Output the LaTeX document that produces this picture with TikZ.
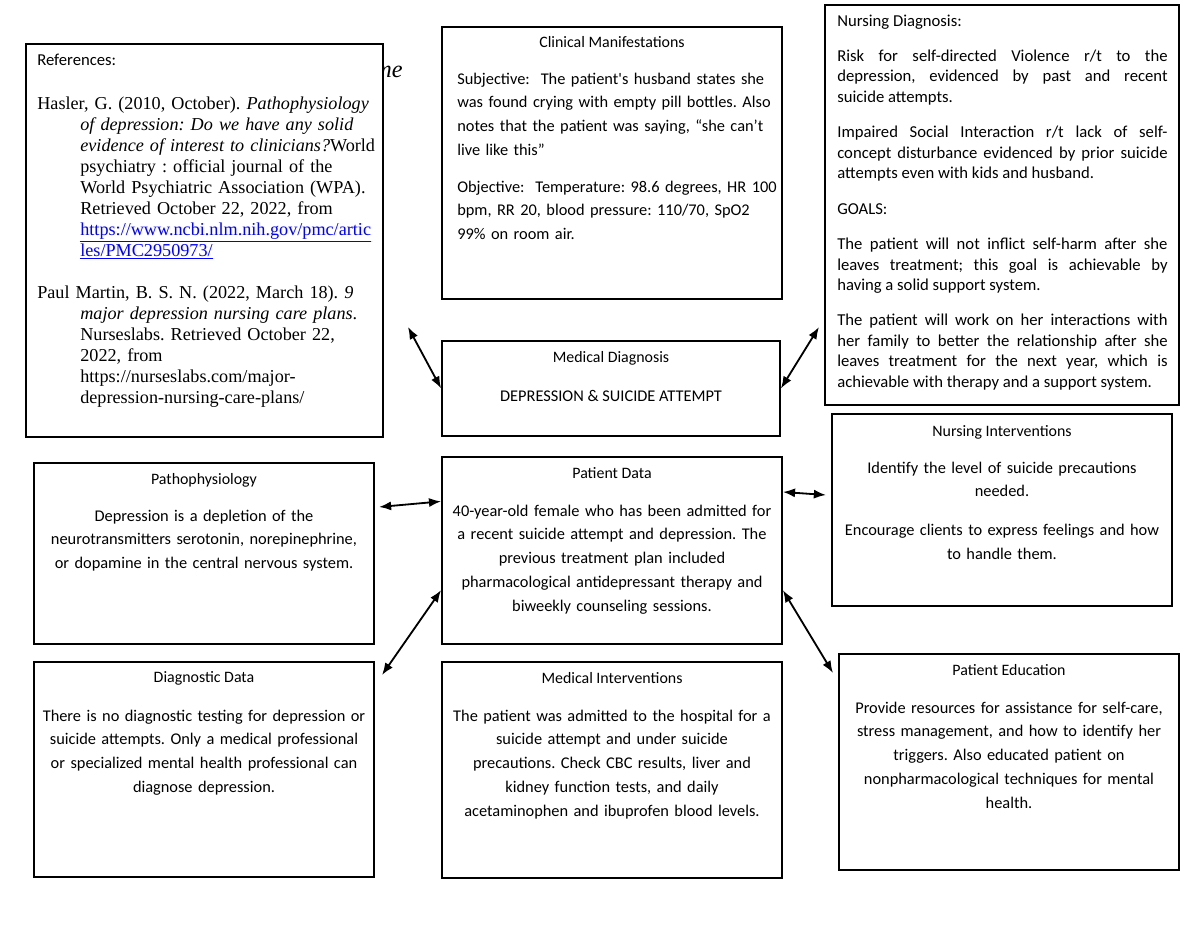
\documentclass[tikz,border=0pt]{standalone}
\usepackage{fontspec}
\setmainfont{Carlito}
\newfontfamily\tnrfont{Liberation Serif}
\usetikzlibrary{fit,calc,arrows.meta}
\tikzset{
  box/.style={draw, line width=1.2pt, fill=white, inner sep=0pt},
  head/.style={anchor=base, inner sep=0pt, font=\fontsize{10.5pt}{13pt}\selectfont},
  body/.style={anchor=base, inner sep=0pt, text width=232pt, align=center, font=\fontsize{10.8pt}{15.7pt}\selectfont\frenchspacing},
  lbody/.style={anchor=base west, inner sep=0pt, text width=232pt, align=left, font=\fontsize{10.8pt}{15.7pt}\selectfont\frenchspacing},
  conn/.style={line width=1.2pt, {Latex[length=8pt,width=6pt]}-{Latex[length=8pt,width=6pt]}},
  reftext/.style={anchor=base west, inner sep=0pt, text width=250pt, align=left, font=\tnrfont\fontsize{12pt}{13.86pt}\selectfont\frenchspacing},
}
\definecolor{linkblue}{RGB}{0,0,255}
\newcommand{\hang}{\hspace*{28.4pt}}
\begin{document}
\begin{tikzpicture}[x=0.66pt,y=-0.66pt]
\useasboundingbox (0,0) rectangle (1200,927);
% partly hidden title behind the references box
\node[anchor=base east, inner sep=0pt, font=\tnrfont\itshape\fontsize{16pt}{16pt}\selectfont] (title) at (403,77) {Name};
% boxes
\node[box, fit={(26,44)(383,437)}] (ref) {};
\node[box, fit={(442,27)(782,299)}] (cm) {};
\node[box, fit={(825,5)(1179,405)}] (nd) {};
\node[box, fit={(442,341)(780,436)}] (md) {};
\node[box, fit={(34,463)(374,644)}] (pp) {};
\node[box, fit={(442,457)(782,644)}] (pd) {};
\node[box, fit={(832,414)(1172,606)}] (ni) {};
\node[box, fit={(34,662)(374,877)}] (dd) {};
\node[box, fit={(442,662)(782,878)}] (mi) {};
\node[box, fit={(839,654)(1179,870)}] (pe) {};
% references
\node[anchor=base west, inner sep=0pt, font=\fontsize{11pt}{13pt}\selectfont] (refh) at (37,65) {References:};
\node[reftext] (reft) at (37,109) {Hasler, G. (2010, October). \textit{Pathophysiology}\\
\hang\textit{of depression: Do we have any solid}\\
\hang\textit{evidence of interest to clinicians?}World\\
\hang psychiatry : official journal of the\\
\hang World Psychiatric Association (WPA).\\
\hang Retrieved October 22, 2022, from\\
\hang\textcolor{linkblue}{\underline{https://www.ncbi.nlm.nih.gov/pmc/artic}}\\
\hang\textcolor{linkblue}{\underline{les/PMC2950973/}}\\[13.86pt]
Paul Martin, B. S. N. (2022, March 18). \textit{9}\\
\hang\textit{major depression nursing care plans}.\\
\hang Nurseslabs. Retrieved October 22,\\
\hang 2022, from\\
\hang https://nurseslabs.com/major-\\
\hang depression-nursing-care-plans/};
% clinical manifestations
\node[head] (cmh) at (612,47) {Clinical Manifestations};
\node[lbody] (cmt) at (457,84) {Subjective:\ \ The patient\textquotesingle s husband states she\\
was found crying with empty pill bottles. Also\\
notes that the patient was saying, “she can’t\\
live like this”\\[8.6pt]
Objective:\ \ Temperature: 98.6 degrees, HR 100\\
bpm, RR 20, blood pressure: 110/70, SpO2\\
99\% on room air.};
% nursing diagnosis
\node[anchor=base west, inner sep=0pt, text width=218pt, align=justify, font=\fontsize{11pt}{13.5pt}\selectfont\frenchspacing] (ndt) at (837,26) {\setlength{\parskip}{9.9pt}\hyphenpenalty=10000\exhyphenpenalty=10000
Nursing Diagnosis:\par
Risk for self-directed Violence r/t to the\linebreak depression, evidenced by past and recent\linebreak suicide attempts.\par
Impaired Social Interaction r/t lack of self-\linebreak concept disturbance evidenced by prior suicide\linebreak attempts even with kids and husband.\par
GOALS:\par
The patient will not inflict self-harm after she\linebreak leaves treatment; this goal is achievable by\linebreak having a solid support system.\par
The patient will work on her interactions with\linebreak her family to better the relationship after she\linebreak leaves treatment for the next year, which is\linebreak achievable with therapy and a support system.};
% medical diagnosis
\node[head] (mdh) at (611,362) {Medical Diagnosis};
\node[head, font=\fontsize{10.8pt}{13pt}\selectfont] (mdt) at (611,401) {DEPRESSION \& SUICIDE ATTEMPT};
% pathophysiology
\node[head] (pph) at (204,484) {Pathophysiology};
\node[body] (ppt) at (204,521) {Depression is a depletion of the\\
neurotransmitters serotonin, norepinephrine,\\
or dopamine in the central nervous system.};
% patient data
\node[head] (pdh) at (612,478) {Patient Data};
\node[body] (pdt) at (612,516) {40-year-old female who has been admitted for\\
a recent suicide attempt and depression. The\\
previous treatment plan included\\
pharmacological antidepressant therapy and\\
biweekly counseling sessions.};
% nursing interventions
\node[head] (nih) at (1002,436) {Nursing Interventions};
\node[body] (nit) at (1002,473) {Identify the level of suicide precautions\\
needed.\\[10pt]
Encourage clients to express feelings and how\\
to handle them.};
% diagnostic data
\node[head] (ddh) at (204,682) {Diagnostic Data};
\node[body] (ddt) at (204,721) {There is no diagnostic testing for depression or\\
suicide attempts. Only a medical professional\\
or specialized mental health professional can\\
diagnose depression.};
% medical interventions
\node[head] (mih) at (612,683) {Medical Interventions};
\node[body] (mit) at (612,721) {The patient was admitted to the hospital for a\\
suicide attempt and under suicide\\
precautions. Check CBC results, liver and\\
kidney function tests, and daily\\
acetaminophen and ibuprofen blood levels.};
% patient education
\node[head] (peh) at (1009,675) {Patient Education};
\node[body] (pet) at (1009,713) {Provide resources for assistance for self-care,\\
stress management, and how to identify her\\
triggers. Also educated patient on\\
nonpharmacological techniques for mental\\
health.};
% connector free ends
\coordinate (c1) at (408,327);
\coordinate (c2) at (819,327);
\coordinate (c3) at (379,507);
\coordinate (c4) at (826,495);
\coordinate (c5) at (382,675);
\coordinate (c6) at (833,673);
% connectors
\draw[conn] (c1) -- (md.west);
\draw[conn] (md.east) -- (c2);
\draw[conn] (c3) -- ($(pd.north west)!0.24!(pd.south west)$);
\draw[conn] ($(pd.north east)!0.19!(pd.south east)$) -- (c4);
\draw[conn] (c5) -- ($(pd.north west)!0.71!(pd.south west)$);
\draw[conn] ($(pd.north east)!0.71!(pd.south east)$) -- (c6);
\end{tikzpicture}
\end{document}
